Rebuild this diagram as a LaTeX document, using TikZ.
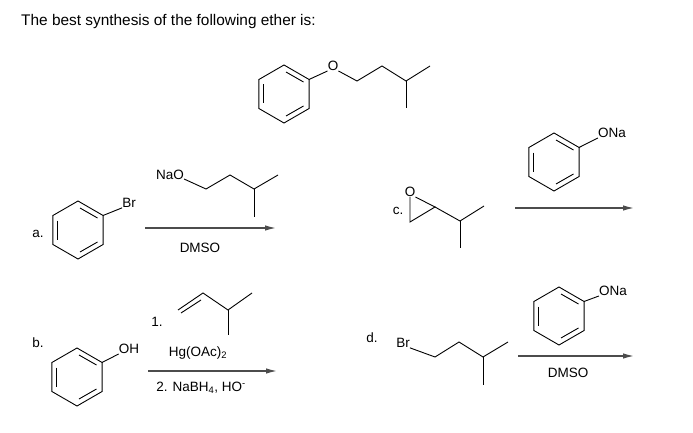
\documentclass[tikz,border=0pt]{standalone}
\usepackage{fontspec}
\setmainfont{Liberation Sans}
\usetikzlibrary{arrows.meta}
\newcommand\benz[2]{%
  \draw[bond] (#1,#2-29) -- (#1+25.1,#2-14.5) -- (#1+25.1,#2+14.5) -- (#1,#2+29) -- (#1-25.1,#2+14.5) -- (#1-25.1,#2-14.5) -- cycle;
  \draw[bond] (#1+2,#2-22) -- (#1+19.5,#2-12);
  \draw[bond] (#1+19.5,#2+12) -- (#1+2,#2+22);
  \draw[bond] (#1-21,#2-9.5) -- (#1-21,#2+9.5);}
\begin{document}
\begin{tikzpicture}[x=1pt,y=-1pt,
  bond/.style={line width=0.9pt,line join=miter},
  lbl/.style={inner sep=0pt,font=\fontsize{13.5}{14}\selectfont},
  rxn/.style={line width=1.3pt,draw=black!70,-{Latex[length=11pt,width=5.5pt]}}]
\useasboundingbox (0,0) rectangle (693,433);
\node[lbl,anchor=west,font=\fontsize{15.4}{16}\selectfont] (title) at (21,22) {The best synthesis of the following ether is:};
% target
\benz{284}{94}
\node[lbl] (o0) at (333,66) {O};
\draw[bond] (309,79.5) -- (o0.south west);
\draw[bond] (o0.south east) -- (357,81) -- (382,66) -- (406,81) -- (430,66);
\draw[bond] (406,81) -- (406,108);
% a
\node[lbl] (la) at (38,234) {a.};
\benz{78}{230}
\node[lbl] (br1) at (129,203) {Br};
\draw[bond] (103,215.5) -- (br1.south west);
\node[lbl] (nao) at (170,175) {NaO};
\draw[bond] (nao.east) ++(0,4) -- (206,189) -- (230,175) -- (254,189) -- (278,175);
\draw[bond] (254,189) -- (254,217);
\coordinate (a1) at (145,228); \coordinate (a2) at (276,228);
\draw[rxn] (a1) -- (a2);
\node[lbl] (dmso1) at (200,248) {DMSO};
% b
\node[lbl] (lb) at (38,343) {b.};
\benz{77}{377}
\node[lbl] (oh) at (129,349) {OH};
\draw[bond] (102,362.5) -- (oh.south west);
\draw[bond] (178,310) -- (203,293) -- (228,310) -- (252,293);
\draw[bond] (228,310) -- (228,335);
\draw[bond] (181,313) -- (201,300);
\node[lbl] (one) at (157,322) {1.};
\node[lbl] (hg) at (198,353) {Hg(OAc)\textsubscript{2}};
\coordinate (b1) at (148,371); \coordinate (b2) at (277,371);
\draw[rxn] (b1) -- (b2);
\node[lbl] (nabh) at (201,388) {2. NaBH\textsubscript{4}, HO\textsuperscript{-}};
% c
\node[lbl] (lc) at (398,211) {c.};
\node[lbl] (oe) at (410,192) {O};
\draw[bond] (oe.south) -- (410,222) -- (435,207) -- (oe.south east);
\draw[bond] (435,207) -- (460,221) -- (484,206);
\draw[bond] (460,221) -- (460,248);
\benz{554}{162}
\node[lbl] (ona1) at (612,133) {ONa};
\draw[bond] (579,147.5) -- (ona1.south west);
\coordinate (c1) at (515,208); \coordinate (c2) at (634,208);
\draw[rxn] (c1) -- (c2);
% d
\node[lbl] (ld) at (372,338) {d.};
\node[lbl] (br2) at (403,343) {Br};
\draw[bond] (br2.south east) -- (435,357) -- (459,342) -- (483,357) -- (508,342);
\draw[bond] (483,357) -- (483,385);
\benz{559}{316}
\node[lbl] (ona2) at (613,291) {ONa};
\draw[bond] (584,301.5) -- (ona2.south west);
\coordinate (d1) at (518,356); \coordinate (d2) at (634,356);
\draw[rxn] (d1) -- (d2);
\node[lbl] (dmso2) at (568,373) {DMSO};
\end{tikzpicture}
\end{document}
